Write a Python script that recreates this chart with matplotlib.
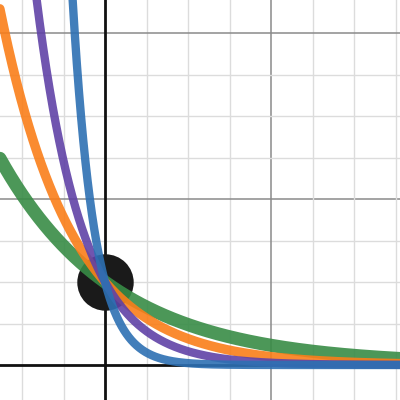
import matplotlib
matplotlib.use("Agg")
import matplotlib.pyplot as plt
import numpy as np

# decay rates of y = exp(-k x), all through (0, 1)
rates = [0.72, 1.15, 1.8, 3.8]
colors = ["#388c46", "#fa7e19", "#6042a6", "#2d70b3"]
widths = [9.5, 6.8, 6.0, 6.0]
point = (0, 1)

xmin, xmax = -105 / 83, 295 / 83
ymin, ymax = -35 / 83, 365 / 83

fig = plt.figure(figsize=(4, 4), dpi=100)
ax = fig.add_axes([0, 0, 1, 1])
ax.set_xlim(xmin, xmax)
ax.set_ylim(ymin, ymax)
ax.axis("off")

# grid: minor every 0.5, major every 2
for v in np.arange(-1.0, 4.01, 0.5):
    major = abs(v / 2 - round(v / 2)) < 1e-9
    if v == 0:
        continue
    c = "#8a8a8a" if major else "#dcdcdc"
    lw = 1.1 if major else 1.0
    ax.axvline(v, color=c, lw=lw, zorder=0)
    ax.axhline(v, color=c, lw=lw, zorder=0)
ax.axvline(0, color="#111111", lw=2.0, zorder=1)
ax.axhline(0, color="#111111", lw=2.0, zorder=1)

ax.scatter([point[0]], [point[1]], s=1650, color="#1a1a1a", zorder=2, lw=0)

x = np.linspace(xmin - 0.2, xmax + 0.2, 2000)
for k, c, w in zip(rates, colors, widths):
    ax.plot(x, np.exp(-k * x), color=c, lw=w, alpha=0.9, zorder=3,
            solid_capstyle="round")

fig.savefig("out.png", dpi=100)
